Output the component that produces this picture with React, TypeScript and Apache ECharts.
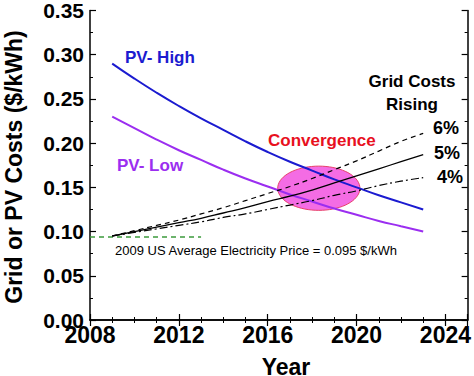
import React, { useEffect, useRef } from "react";
import * as echarts from "echarts";

const years = [2009, 2010, 2011, 2012, 2013, 2014, 2015, 2016, 2017, 2018, 2019, 2020, 2021, 2022, 2023];
const pvHigh = [0.290, 0.273, 0.257, 0.242, 0.228, 0.215, 0.202, 0.190, 0.179, 0.169, 0.159, 0.150, 0.141, 0.133, 0.125];
const pvLow = [0.230, 0.217, 0.204, 0.192, 0.181, 0.170, 0.160, 0.151, 0.142, 0.134, 0.126, 0.119, 0.112, 0.106, 0.100];
const grid6 = [0.095, 0.101, 0.107, 0.113, 0.120, 0.127, 0.135, 0.143, 0.151, 0.160, 0.170, 0.180, 0.191, 0.202, 0.211];
const grid5 = [0.095, 0.100, 0.105, 0.110, 0.115, 0.121, 0.127, 0.134, 0.140, 0.147, 0.155, 0.163, 0.171, 0.179, 0.187];
const grid4 = [0.095, 0.099, 0.103, 0.107, 0.111, 0.116, 0.120, 0.125, 0.130, 0.135, 0.141, 0.146, 0.152, 0.157, 0.161];
const avgPriceLine = [[2008, 0.094], [2013, 0.094]];
// ellipse: [centerYear, centerValue, radiusYears, radiusValue]
const convergence = [[2018.3, 0.149, 1.85, 0.025]];

const xTicks = { min: 2008, max: 2025, interval: 4 };
const yTicks = { min: 0, max: 0.35, interval: 0.05 };

const FONT = "Liberation Sans, Arial, Helvetica, sans-serif";

export default function App() {
  const ref = useRef<HTMLDivElement>(null);
  useEffect(() => {
    const chart = echarts.init(ref.current!, null, { renderer: "svg" });
    const zip = (a: number[]) => years.map((y, i) => [y, a[i]]);
    const axisLine = { show: true, lineStyle: { color: "#000", width: 1.5 } };
    const option: any = {
      animation: false,
      backgroundColor: "#fff",
      grid: { left: 90, right: 3, top: 10, bottom: 56 },
      xAxis: [
        {
          type: "value",
          ...xTicks,
          axisLine,
          axisTick: { show: true, inside: true, length: 6, lineStyle: { color: "#000", width: 1.2 } },
          minorTick: { show: true, splitNumber: 4, length: 3, lineStyle: { color: "#000", width: 1 } },
          splitLine: { show: false },
          axisLabel: {
            margin: 3,
            color: "#000",
            fontFamily: FONT,
            fontWeight: "bold",
            fontSize: 23,
            formatter: (v: number) => (v % 4 === 0 ? String(v) : ""),
            showMaxLabel: true,
          },
        },
        {
          type: "value",
          position: "top",
          ...xTicks,
          axisLine,
          axisTick: { show: true, inside: true, length: 6, lineStyle: { color: "#000", width: 1.2 } },
          minorTick: { show: true, splitNumber: 4, length: 3, lineStyle: { color: "#000", width: 1 } },
          splitLine: { show: false },
          axisLabel: { show: false },
        },
      ],
      yAxis: [
        {
          type: "value",
          ...yTicks,
          axisLine,
          axisTick: { show: true, inside: true, length: 6, lineStyle: { color: "#000", width: 1.2 } },
          minorTick: { show: true, splitNumber: 2, length: 3, lineStyle: { color: "#000", width: 1 } },
          splitLine: { show: false },
          axisLabel: {
            margin: 6,
            color: "#000",
            fontFamily: FONT,
            fontWeight: "bold",
            fontSize: 21,
            formatter: (v: number) => v.toFixed(2),
          },
        },
        {
          type: "value",
          position: "right",
          ...yTicks,
          axisLine,
          axisTick: { show: true, inside: true, length: 6, lineStyle: { color: "#000", width: 1.2 } },
          minorTick: { show: true, splitNumber: 2, length: 3, lineStyle: { color: "#000", width: 1 } },
          splitLine: { show: false },
          axisLabel: { show: false },
        },
      ],
      series: [
        {
          type: "custom",
          name: "Convergence",
          z: 1,
          data: convergence,
          encode: { x: 0, y: 1 },
          renderItem: (params: any, api: any) => {
            const c = api.coord([api.value(0), api.value(1)]);
            const s = api.size([api.value(2), api.value(3)]);
            const pts: number[][] = [];
            for (let i = 0; i < 72; i++) {
              const a = (i / 72) * Math.PI * 2;
              pts.push([c[0] + s[0] * Math.cos(a), c[1] + s[1] * Math.sin(a)]);
            }
            return {
              type: "polygon",
              shape: { points: pts },
              style: { fill: "#f46ce4", stroke: "#e8406a", lineWidth: 1 },
            };
          },
        },
        {
          type: "line",
          name: "avg",
          z: 2,
          data: avgPriceLine,
          showSymbol: false,
          lineStyle: { color: "#3c9a3c", width: 1.5, type: [5, 4] },
        },
        {
          type: "line",
          name: "PV- High",
          z: 3,
          data: zip(pvHigh),
          showSymbol: false,
          smooth: true,
          lineStyle: { color: "#1b1bd0", width: 2 },
        },
        {
          type: "line",
          name: "PV- Low",
          z: 3,
          data: zip(pvLow),
          showSymbol: false,
          smooth: true,
          lineStyle: { color: "#9b2ef0", width: 2 },
        },
        {
          type: "line",
          name: "6%",
          z: 3,
          data: zip(grid6),
          showSymbol: false,
          smooth: true,
          lineStyle: { color: "#000", width: 1.2, type: [5, 4] },
        },
        {
          type: "line",
          name: "5%",
          z: 3,
          data: zip(grid5),
          showSymbol: false,
          smooth: true,
          lineStyle: { color: "#000", width: 1.3 },
        },
        {
          type: "line",
          name: "4%",
          z: 3,
          data: zip(grid4),
          showSymbol: false,
          smooth: true,
          lineStyle: { color: "#000", width: 1.2, type: [8, 3, 2, 3] },
        },
      ],
      graphic: [
        { type: "text", x: 125, y: 57, style: { text: "PV- High", fill: "#1b1bd0", font: `bold 17px ${FONT}`, textVerticalAlign: "middle" } },
        { type: "text", x: 117, y: 165, style: { text: "PV- Low", fill: "#9b2ef0", font: `bold 17px ${FONT}`, textVerticalAlign: "middle" } },
        { type: "text", x: 268, y: 140, style: { text: "Convergence", fill: "#e8101e", font: `bold 17px ${FONT}`, textVerticalAlign: "middle" } },
        { type: "text", x: 412, y: 81, style: { text: "Grid Costs", fill: "#000", font: `bold 17px ${FONT}`, textAlign: "center", textVerticalAlign: "middle" } },
        { type: "text", x: 412, y: 104, style: { text: "Rising", fill: "#000", font: `bold 17px ${FONT}`, textAlign: "center", textVerticalAlign: "middle" } },
        { type: "text", x: 433, y: 128, style: { text: "6%", fill: "#000", font: `bold 18px ${FONT}`, textVerticalAlign: "middle" } },
        { type: "text", x: 434, y: 153, style: { text: "5%", fill: "#000", font: `bold 18px ${FONT}`, textVerticalAlign: "middle" } },
        { type: "text", x: 437, y: 177, style: { text: "4%", fill: "#000", font: `bold 18px ${FONT}`, textVerticalAlign: "middle" } },
        { type: "text", x: 115, y: 250, style: { text: "2009 US Average Electricity Price = 0.095 $/kWh", fill: "#000", font: `13px ${FONT}`, textVerticalAlign: "middle" } },
        { type: "text", x: 286, y: 367, style: { text: "Year", fill: "#000", font: `bold 23px ${FONT}`, textAlign: "center", textVerticalAlign: "middle" } },
        { type: "text", x: 14, y: 167, rotation: Math.PI / 2, style: { text: "Grid or PV Costs ($/kWh)", fill: "#000", font: `bold 23px ${FONT}`, textAlign: "center", textVerticalAlign: "middle" } },
      ],
    };
    chart.setOption(option);
    return () => chart.dispose();
  }, []);
  return <div ref={ref} style={{ width: 474, height: 376, position: "absolute", left: 0, top: 0 }} />;
}
